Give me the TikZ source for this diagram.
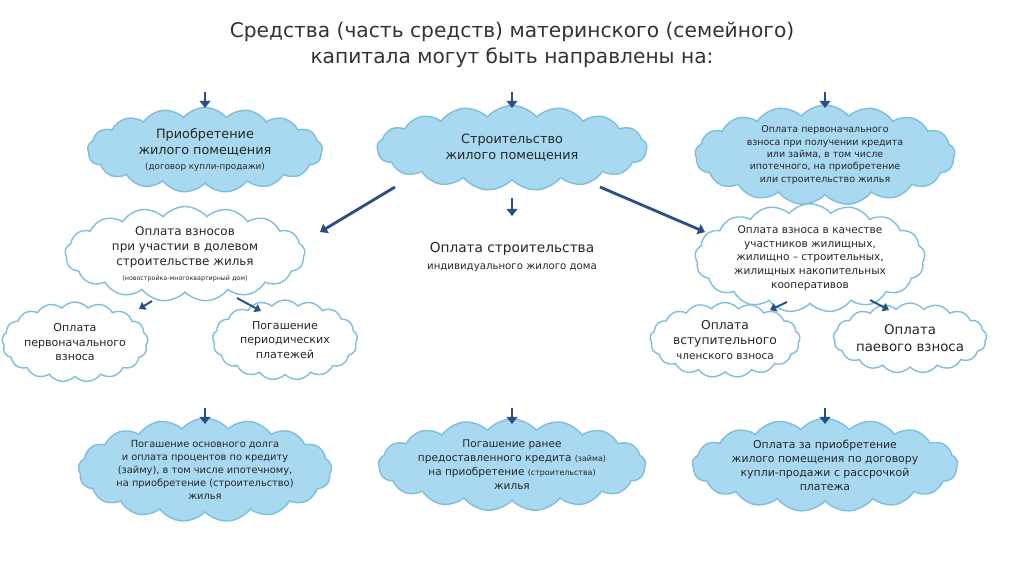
\documentclass[tikz,border=0pt]{standalone}
\usepackage{fontspec}
\setmainfont{DejaVu Sans}
\usetikzlibrary{shapes.symbols,arrows.meta}
\definecolor{fillb}{HTML}{A9D9F0}
\definecolor{edgeb}{HTML}{7FBEDD}
\definecolor{arr}{HTML}{2A4F86}
\tikzset{
 cl/.style={cloud, cloud puffs=17, cloud puff arc=100, cloud ignores aspect, draw=edgeb, line width=0.8pt, align=center, inner sep=0pt, text=black!85},
 fcl/.style={cl, fill=fillb},
 wcl/.style={cl, fill=white},
 ar/.style={draw=arr, line width=1.6pt, -{Triangle[length=4pt,width=6pt]}},
 ars/.style={draw=arr, line width=1.1pt, -{Triangle[length=3.5pt,width=5pt]}},
 tx/.style={font=\fontsize{6.3}{8}\selectfont},
}
\begin{document}
\begin{tikzpicture}[x=0.02cm,y=-0.02cm]
\useasboundingbox[fill=white] (0,0) rectangle (1024,576);
\node[align=center, font=\fontsize{11.5}{15}\selectfont, text=black!80] (title) at (512,45) {Средства (часть средств) материнского (семейного)\\капитала могут быть направлены на:};
% top row
\node[fcl, font=\fontsize{7.3}{9}\selectfont, minimum width=235*0.02cm, minimum height=85*0.02cm] (c1) at (205,150)
 {Приобретение\\жилого помещения\\{\fontsize{5}{7}\selectfont (договор купли-продажи)}};
\node[fcl, font=\fontsize{7.3}{9}\selectfont, minimum width=270*0.02cm, minimum height=85*0.02cm] (c2) at (512,148)
 {Строительство\\жилого помещения};
\node[fcl, font=\fontsize{5.4}{7}\selectfont, minimum width=260*0.02cm, minimum height=95*0.02cm] (c3) at (825,155)
 {Оплата первоначального\\взноса при получении кредита\\или займа, в том числе\\ипотечного, на приобретение\\или строительство жилья};
\coordinate (t1) at (205,92); \coordinate (t2) at (512,92); \coordinate (t3) at (825,92);
\draw[ar] (t1) -- ++(0,16);
\draw[ar] (t2) -- ++(0,16);
\draw[ar] (t3) -- ++(0,16);
% middle row
\node[wcl, font=\fontsize{6.8}{8.5}\selectfont, minimum width=240*0.02cm, minimum height=95*0.02cm] (w1) at (185,254)
 {Оплата взносов\\при участии в долевом\\строительстве жилья\\{\fontsize{3.6}{5}\selectfont (новостройка-многоквартирный дом)}};
\node[wcl, draw=none, font=\fontsize{7.8}{9.5}\selectfont, minimum width=260*0.02cm, minimum height=75*0.02cm] (w2) at (512,257)
 {Оплата строительства\\{\fontsize{5.8}{8}\selectfont индивидуального жилого дома}};
\node[wcl, font=\fontsize{6}{7.8}\selectfont, minimum width=230*0.02cm, minimum height=105*0.02cm] (w3) at (810,258)
 {Оплата взноса в качестве\\участников жилищных,\\жилищно -- строительных,\\жилищных накопительных\\кооперативов};
\coordinate (s1) at (395,187); \coordinate (s2) at (512,198); \coordinate (s3) at (600,187);
\draw[ar] (s1) -- (320,232);
\draw[ar] (s2) -- (512,216);
\draw[ar] (s3) -- (705,232);
% third row
\node[wcl, tx, minimum width=125*0.02cm, minimum height=80*0.02cm] (l1) at (75,342) {Оплата\\первоначального\\взноса};
\node[wcl, tx, minimum width=145*0.02cm, minimum height=80*0.02cm] (l2) at (285,340) {Погашение\\периодических\\платежей};
\node[wcl, font=\fontsize{7}{8.5}\selectfont, minimum width=150*0.02cm, minimum height=75*0.02cm] (r1) at (725,340) {Оплата\\вступительного\\{\fontsize{6}{8}\selectfont членского взноса}};
\node[wcl, font=\fontsize{7.6}{9.5}\selectfont, minimum width=150*0.02cm, minimum height=70*0.02cm] (r2) at (910,338) {Оплата\\паевого взноса};
\coordinate (p1) at (152,301); \coordinate (p2) at (237,298);
\coordinate (p3) at (787,302); \coordinate (p4) at (870,300);
\draw[ars] (p1) -- (139,309);
\draw[ars] (p2) -- (261,311);
\draw[ars] (p3) -- (770,310);
\draw[ars] (p4) -- (889,310);
% bottom row
\coordinate (u1) at (205,408); \coordinate (u2) at (512,408); \coordinate (u3) at (825,408);
\node[fcl, font=\fontsize{5.6}{7.4}\selectfont, minimum width=245*0.02cm, minimum height=95*0.02cm] (b1) at (205,470)
 {Погашение основного долга\\и оплата процентов по кредиту\\(займу), в том числе ипотечному,\\на приобретение (строительство)\\жилья};
\node[fcl, font=\fontsize{6}{8}\selectfont, minimum width=260*0.02cm, minimum height=88*0.02cm] (b2) at (512,465)
 {Погашение ранее\\предоставленного кредита {\fontsize{4.5}{6}\selectfont(займа)}\\на приобретение {\fontsize{4.5}{6}\selectfont(строительства)}\\жилья};
\node[fcl, font=\fontsize{6.2}{8}\selectfont, minimum width=250*0.02cm, minimum height=85*0.02cm] (b3) at (825,465)
 {Оплата за приобретение\\жилого помещения по договору\\купли-продажи с рассрочкой\\платежа};
\draw[ar] (u1) -- ++(0,16);
\draw[ar] (u2) -- ++(0,16);
\draw[ar] (u3) -- ++(0,16);
\end{tikzpicture}
\end{document}
